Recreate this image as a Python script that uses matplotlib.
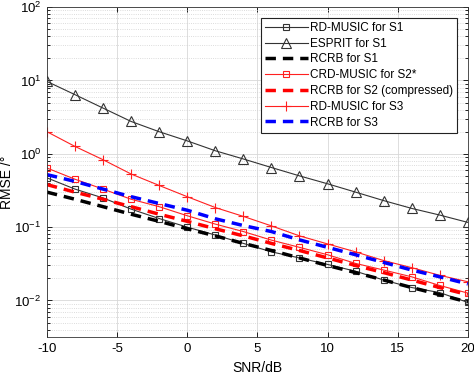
import numpy as np
import matplotlib.pyplot as plt

plt.rcParams['font.family'] = ['Liberation Sans', 'DejaVu Sans']
plt.rcParams['mathtext.fontset'] = 'custom'
plt.rcParams['mathtext.rm'] = 'Liberation Sans'
plt.rcParams['mathtext.it'] = 'Liberation Sans'
plt.rcParams['axes.unicode_minus'] = False

# SNR axis
snr = np.arange(-10, 21, 2)

# RMSE values
rd_music_s1 = [0.47, 0.33, 0.25, 0.176, 0.131, 0.100, 0.078, 0.060,
               0.046, 0.038, 0.031, 0.025, 0.019, 0.015, 0.0128, 0.0094]
esprit_s1 = [9.7, 6.4, 4.2, 2.76, 2.0, 1.5, 1.1, 0.85,
             0.65, 0.50, 0.39, 0.30, 0.23, 0.18, 0.146, 0.116]
rcrb_s1 = [0.30, 0.24, 0.19, 0.15, 0.12, 0.095, 0.076, 0.060,
           0.048, 0.038, 0.030, 0.024, 0.019, 0.015, 0.012, 0.0095]
crd_music_s2 = [0.64, 0.45, 0.33, 0.24, 0.19, 0.143, 0.11, 0.087,
                0.0665, 0.053, 0.042, 0.032, 0.026, 0.021, 0.016, 0.0126]
rcrb_s2 = [0.38, 0.30, 0.24, 0.19, 0.15, 0.12, 0.095, 0.076,
           0.060, 0.048, 0.038, 0.030, 0.024, 0.019, 0.015, 0.012]
rd_music_s3 = [2.0, 1.26, 0.83, 0.53, 0.37, 0.26, 0.185, 0.14,
               0.104, 0.076, 0.059, 0.046, 0.035, 0.028, 0.022, 0.018]
rcrb_s3 = [0.52, 0.42, 0.33, 0.26, 0.21, 0.17, 0.13, 0.105,
           0.087, 0.067, 0.053, 0.042, 0.033, 0.026, 0.021, 0.0168]

fig = plt.figure(figsize=(4.74, 3.75), dpi=100)
ax = fig.add_axes([0.099, 0.101, 0.888, 0.880])

ax.semilogy(snr, rd_music_s1, '-s', color='#333333', lw=0.8, ms=5, mfc='none', mew=0.8,
            label='RD-MUSIC for S1')
ax.semilogy(snr, esprit_s1, '-^', color='#333333', lw=0.8, ms=6.5, mfc='none', mew=0.8,
            label='ESPRIT for S1')
ax.semilogy(snr, rcrb_s1, '--', color='black', lw=2.5, dashes=(3, 2),
            label='RCRB for S1')
ax.semilogy(snr, crd_music_s2, '-s', color='#ff2020', lw=0.8, ms=5, mfc='none', mew=0.8,
            label='CRD-MUSIC for S2*')
ax.semilogy(snr, rcrb_s2, '--', color='#ff0000', lw=2.5, dashes=(3, 2),
            label='RCRB for S2 (compressed)')
ax.semilogy(snr, rd_music_s3, '-+', color='#ff2020', lw=0.8, ms=7, mew=0.8,
            label='RD-MUSIC for S3')
ax.semilogy(snr, rcrb_s3, '--', color='#0000ff', lw=2.5, dashes=(3, 2),
            label='RCRB for S3')

ax.set_xlim(-10, 20)
ax.set_ylim(10 ** -2.5, 100)
ax.set_xticks([-10, -5, 0, 5, 10, 15, 20])
ax.set_yticks([1e-2, 1e-1, 1e0, 1e1, 1e2])
ax.tick_params(which='both', direction='in', top=True, right=True, labelsize=9.5,
               width=0.6)
ax.tick_params(which='major', length=3.5, pad=4)
ax.tick_params(which='minor', length=2)
ax.grid(True, which='major', color='#d8d8d8', lw=0.6)
ax.grid(True, which='minor', axis='y', color='#d0d0d0', lw=0.6, ls=':')
ax.set_axisbelow(True)
for s in ax.spines.values():
    s.set_linewidth(0.6)
    s.set_color('#333333')

ax.set_xlabel('SNR/dB', fontsize=10)
ax.set_ylabel('RMSE /°', fontsize=10)
ax.xaxis.set_label_coords(0.5, -0.073)
ax.yaxis.set_label_coords(-0.078, 0.47)

leg = ax.legend(loc='upper right', fontsize=8.5, frameon=True, fancybox=False,
                edgecolor='#222222', framealpha=1, handlelength=3.6,
                borderpad=0.35, labelspacing=0.32, handletextpad=0.2,
                borderaxespad=0.9)
leg.get_frame().set_linewidth(0.8)

fig.savefig('out.png', dpi=100)
